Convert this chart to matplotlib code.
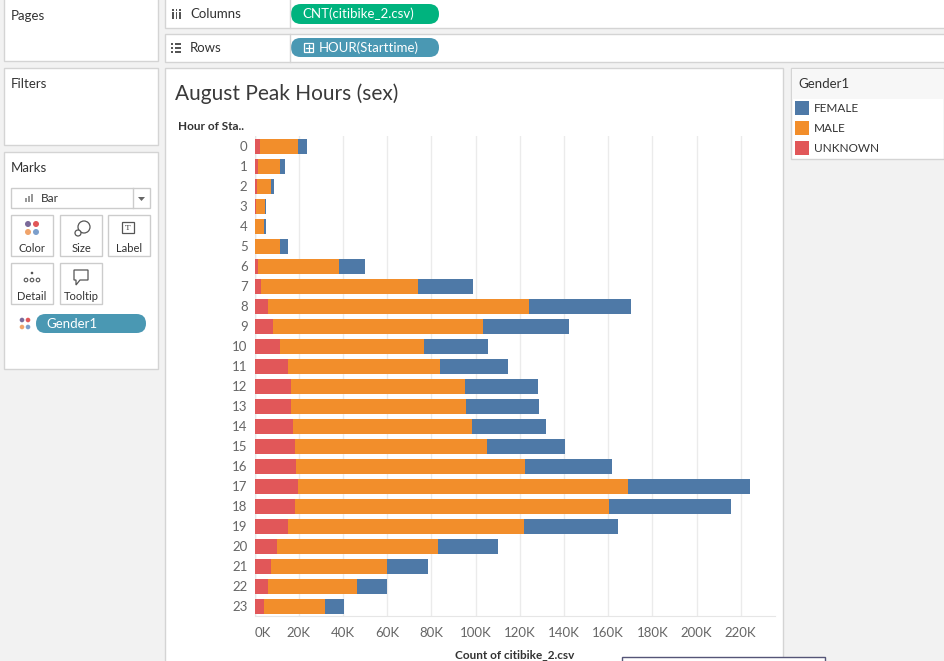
import numpy as np
import matplotlib.pyplot as plt
from matplotlib.patches import Rectangle, FancyBboxPatch, Circle, Polygon

plt.rcParams['font.family'] = ['Lato', 'DejaVu Sans']

# ---- data ----
hours = [str(h) for h in range(24)]
unknown = [2500, 1600, 1100, 700, 300, 200, 1600, 2900, 6100, 8400, 11500, 15200,
           16500, 16500, 17400, 18300, 18800, 19700, 18300, 15200, 10200, 7500, 6100, 4300]
male = [17200, 9900, 6400, 4100, 4000, 11300, 36600, 71100, 118100, 95000, 65200, 68700,
        78700, 79200, 81000, 86900, 103600, 149300, 142100, 106700, 72800, 52500, 40300, 27600]
female = [4100, 2300, 1300, 400, 900, 3700, 11800, 24900, 46200, 38900, 29000, 30800,
          33100, 33000, 33400, 35100, 39400, 55200, 55200, 42600, 27200, 18500, 13600, 8600]
x_ticks = [0, 20000, 40000, 60000, 80000, 100000, 120000, 140000, 160000, 180000, 200000, 220000]
x_ticklabels = ['0K', '20K', '40K', '60K', '80K', '100K', '120K', '140K', '160K', '180K', '200K', '220K']
legend_names = ['FEMALE', 'MALE', 'UNKNOWN']

BLUE = '#4e79a7'
ORANGE = '#f28e2b'
RED = '#e15759'
W, H = 945, 661

fig = plt.figure(figsize=(W / 100, H / 100), dpi=100)
fig.patch.set_facecolor('#f2f2f2')

# background axes in pixel units (y down)
bg = fig.add_axes([0, 0, 1, 1])
bg.set_xlim(0, W)
bg.set_ylim(H, 0)
bg.axis('off')

def panel(x0, y0, x1, y1, fc='white', ec='#d4d4d4'):
    bg.add_patch(Rectangle((x0, y0), x1 - x0, y1 - y0, fc=fc, ec=ec, lw=1))

def pill(x0, y0, x1, y1, color):
    r = (y1 - y0) / 2
    bg.add_patch(FancyBboxPatch((x0, y0), x1 - x0, y1 - y0,
                                boxstyle='round,pad=0,rounding_size=%f' % r,
                                fc=color, ec='none', mutation_aspect=1))

txt = dict(color='#333333', fontsize=9.5, va='center')

# left panels
panel(4, -2, 158, 61)
bg.text(11, 16, 'Pages', **txt)
panel(4, 68, 158, 145)
bg.text(11, 84, 'Filters', **txt)
panel(4, 152, 158, 369)
bg.text(11, 168, 'Marks', **txt)

# marks dropdown
panel(11, 188, 150, 208, ec='#cccccc')
bg.plot([133, 133], [188, 208], color='#cccccc', lw=1)
bg.add_patch(Polygon([[138, 197], [145, 197], [141.5, 201]], fc='#666666', ec='none'))
for i, hh in enumerate([4, 6, 8]):
    bg.add_patch(Rectangle((25 + i * 3, 202 - hh), 1.6, hh, fc='#999999', ec='none'))
bg.text(41, 198, 'Bar', color='#333333', fontsize=8.5, va='center')

# marks buttons
btns = [(11, 215, 'Color'), (60, 215, 'Size'), (108, 215, 'Label'),
        (11, 263, 'Detail'), (60, 263, 'Tooltip')]
for bx, by, name in btns:
    panel(bx, by, bx + 42, by + 41, ec='#cccccc')
    bg.text(bx + 21, by + 33, name, color='#333333', fontsize=8, ha='center', va='center')
# color dots
for (cx, cy, c) in [(28, 224, '#7b6a9a'), (36, 224, RED), (28, 232, '#f0a46b'), (36, 232, '#7c9fcc')]:
    bg.add_patch(Circle((cx, cy), 3, fc=c, ec='none'))
# size icon
bg.add_patch(Circle((84, 227), 6, fc='none', ec='#555555', lw=0.9))
bg.add_patch(Circle((78, 233), 3, fc='white', ec='#555555', lw=0.9))
# label icon
bg.add_patch(Rectangle((122, 222), 12, 11, fc='none', ec='#555555', lw=0.9))
bg.text(128, 227.5, 'T', color='#555555', fontsize=6, ha='center', va='center', family='DejaVu Serif')
# detail icon
bg.add_patch(Circle((32, 273), 1.3, fc='#555555', ec='none'))
for dx in [26, 32, 38]:
    bg.add_patch(Circle((dx, 280), 1.8, fc='none', ec='#555555', lw=0.8))
# tooltip icon
bg.add_patch(Polygon([[74, 270], [88, 270], [88, 280], [80, 280], [76, 285], [76, 280], [74, 280]],
                     fc='none', ec='#555555', lw=0.9, closed=True))
# Gender1 pill on marks
for (cx, cy, c) in [(22, 320, '#7b6a9a'), (28, 320, RED), (22, 327, '#f0a46b'), (28, 327, '#7c9fcc')]:
    bg.add_patch(Circle((cx, cy), 2.3, fc=c, ec='none'))
pill(36, 314, 146, 333, '#4a98b3')
bg.text(46, 323.5, 'Gender1', color='white', fontsize=9.5, va='center')

# shelves
panel(165, -2, 947, 28)
panel(165, 34, 947, 62)
bg.plot([290, 290], [0, 28], color='#d4d4d4', lw=1)
bg.plot([290, 290], [34, 62], color='#d4d4d4', lw=1)
for i in range(3):
    bg.add_patch(Rectangle((172 + i * 3.6, 12), 1.8, 7, fc='#555555', ec='none'))
    bg.add_patch(Rectangle((172 + i * 3.6, 9), 1.8, 1.6, fc='#555555', ec='none'))
bg.text(190, 14, 'Columns', **txt)
for i in range(3):
    bg.add_patch(Rectangle((171, 43 + i * 4), 2, 1.6, fc='#555555', ec='none'))
    bg.add_patch(Rectangle((175, 43 + i * 4), 6, 1.6, fc='#555555', ec='none'))
bg.text(190, 48, 'Rows', **txt)
pill(291, 4, 439, 24, '#00b37e')
bg.text(302, 14, 'CNT(citibike_2.csv)', color='white', fontsize=9.5, va='center')
pill(291, 38, 439, 57, '#4a98b3')
bg.add_patch(Rectangle((304, 43), 9, 9, fc='none', ec='white', lw=0.9))
bg.plot([305.5, 311.5], [47.5, 47.5], color='white', lw=0.9)
bg.plot([308.5, 308.5], [44.5, 50.5], color='white', lw=0.9)
bg.text(319, 48, 'HOUR(Starttime)', color='white', fontsize=9.5, va='center')

# main view panel
panel(165, 68, 783, 663)
bg.text(175, 94, 'August Peak Hours (sex)', color='#3a3a3a', fontsize=15, va='center')
bg.text(178, 127, 'Hour of Sta..', color='#333333', fontsize=8.5, fontweight='bold', va='center')
bg.text(515, 655, 'Count of citibike_2.csv', color='#333333', fontsize=8.5, fontweight='bold',
        ha='center', va='center')

# legend panel
panel(791, 68, 944, 159)
bg.add_patch(Rectangle((792, 69), 151, 30, fc='#f7f7f7', ec='none'))
bg.text(798, 84, 'Gender1', **txt)
for i, (name, c) in enumerate(zip(legend_names, [BLUE, ORANGE, RED])):
    y = 101 + i * 20
    bg.add_patch(Rectangle((795, y), 14, 14, fc=c, ec='none'))
    bg.text(814, y + 7.5, name, color='#333333', fontsize=8.5, va='center')

# tooltip edge at bottom
bg.add_patch(Rectangle((622, 657), 203, 10, fc='white', ec='#555577', lw=1))

# ---- chart axes ----
left, right, top, bottom = 254.5, 775, 136, 616
ax = fig.add_axes([left / W, (H - bottom) / H, (right - left) / W, (bottom - top) / H])
ax.set_facecolor('none')

y = np.arange(len(hours))
unknown_a = np.array(unknown)
male_a = np.array(male)
female_a = np.array(female)
ax.barh(y, unknown_a, height=0.75, color=RED, zorder=3)
ax.barh(y, male_a, left=unknown_a, height=0.75, color=ORANGE, zorder=3)
ax.barh(y, female_a, left=unknown_a + male_a, height=0.75, color=BLUE, zorder=3)

ax.set_xlim(0, (right - left) / 2.21 * 1000)
ax.set_ylim(23.5, -0.5)
ax.set_yticks(y)
ax.set_yticklabels(hours)
ax.set_xticks(x_ticks)
ax.set_xticklabels(x_ticklabels)
ax.tick_params(axis='both', length=0, colors='#666666', labelsize=9.5)
ax.tick_params(axis='y', pad=5)
ax.tick_params(axis='x', pad=8)
ax.xaxis.grid(True, color='#ebebeb', lw=1, zorder=0)
ax.set_axisbelow(True)
for s in ['top', 'right', 'left']:
    ax.spines[s].set_visible(False)
ax.spines['bottom'].set_color('#e6e6e6')
ax.axvline(0, color='#e6e6e6', lw=1, zorder=1)
ax.get_xticklabels()[0].set_horizontalalignment('left')

fig.savefig('out.png', dpi=100, facecolor=fig.get_facecolor())
